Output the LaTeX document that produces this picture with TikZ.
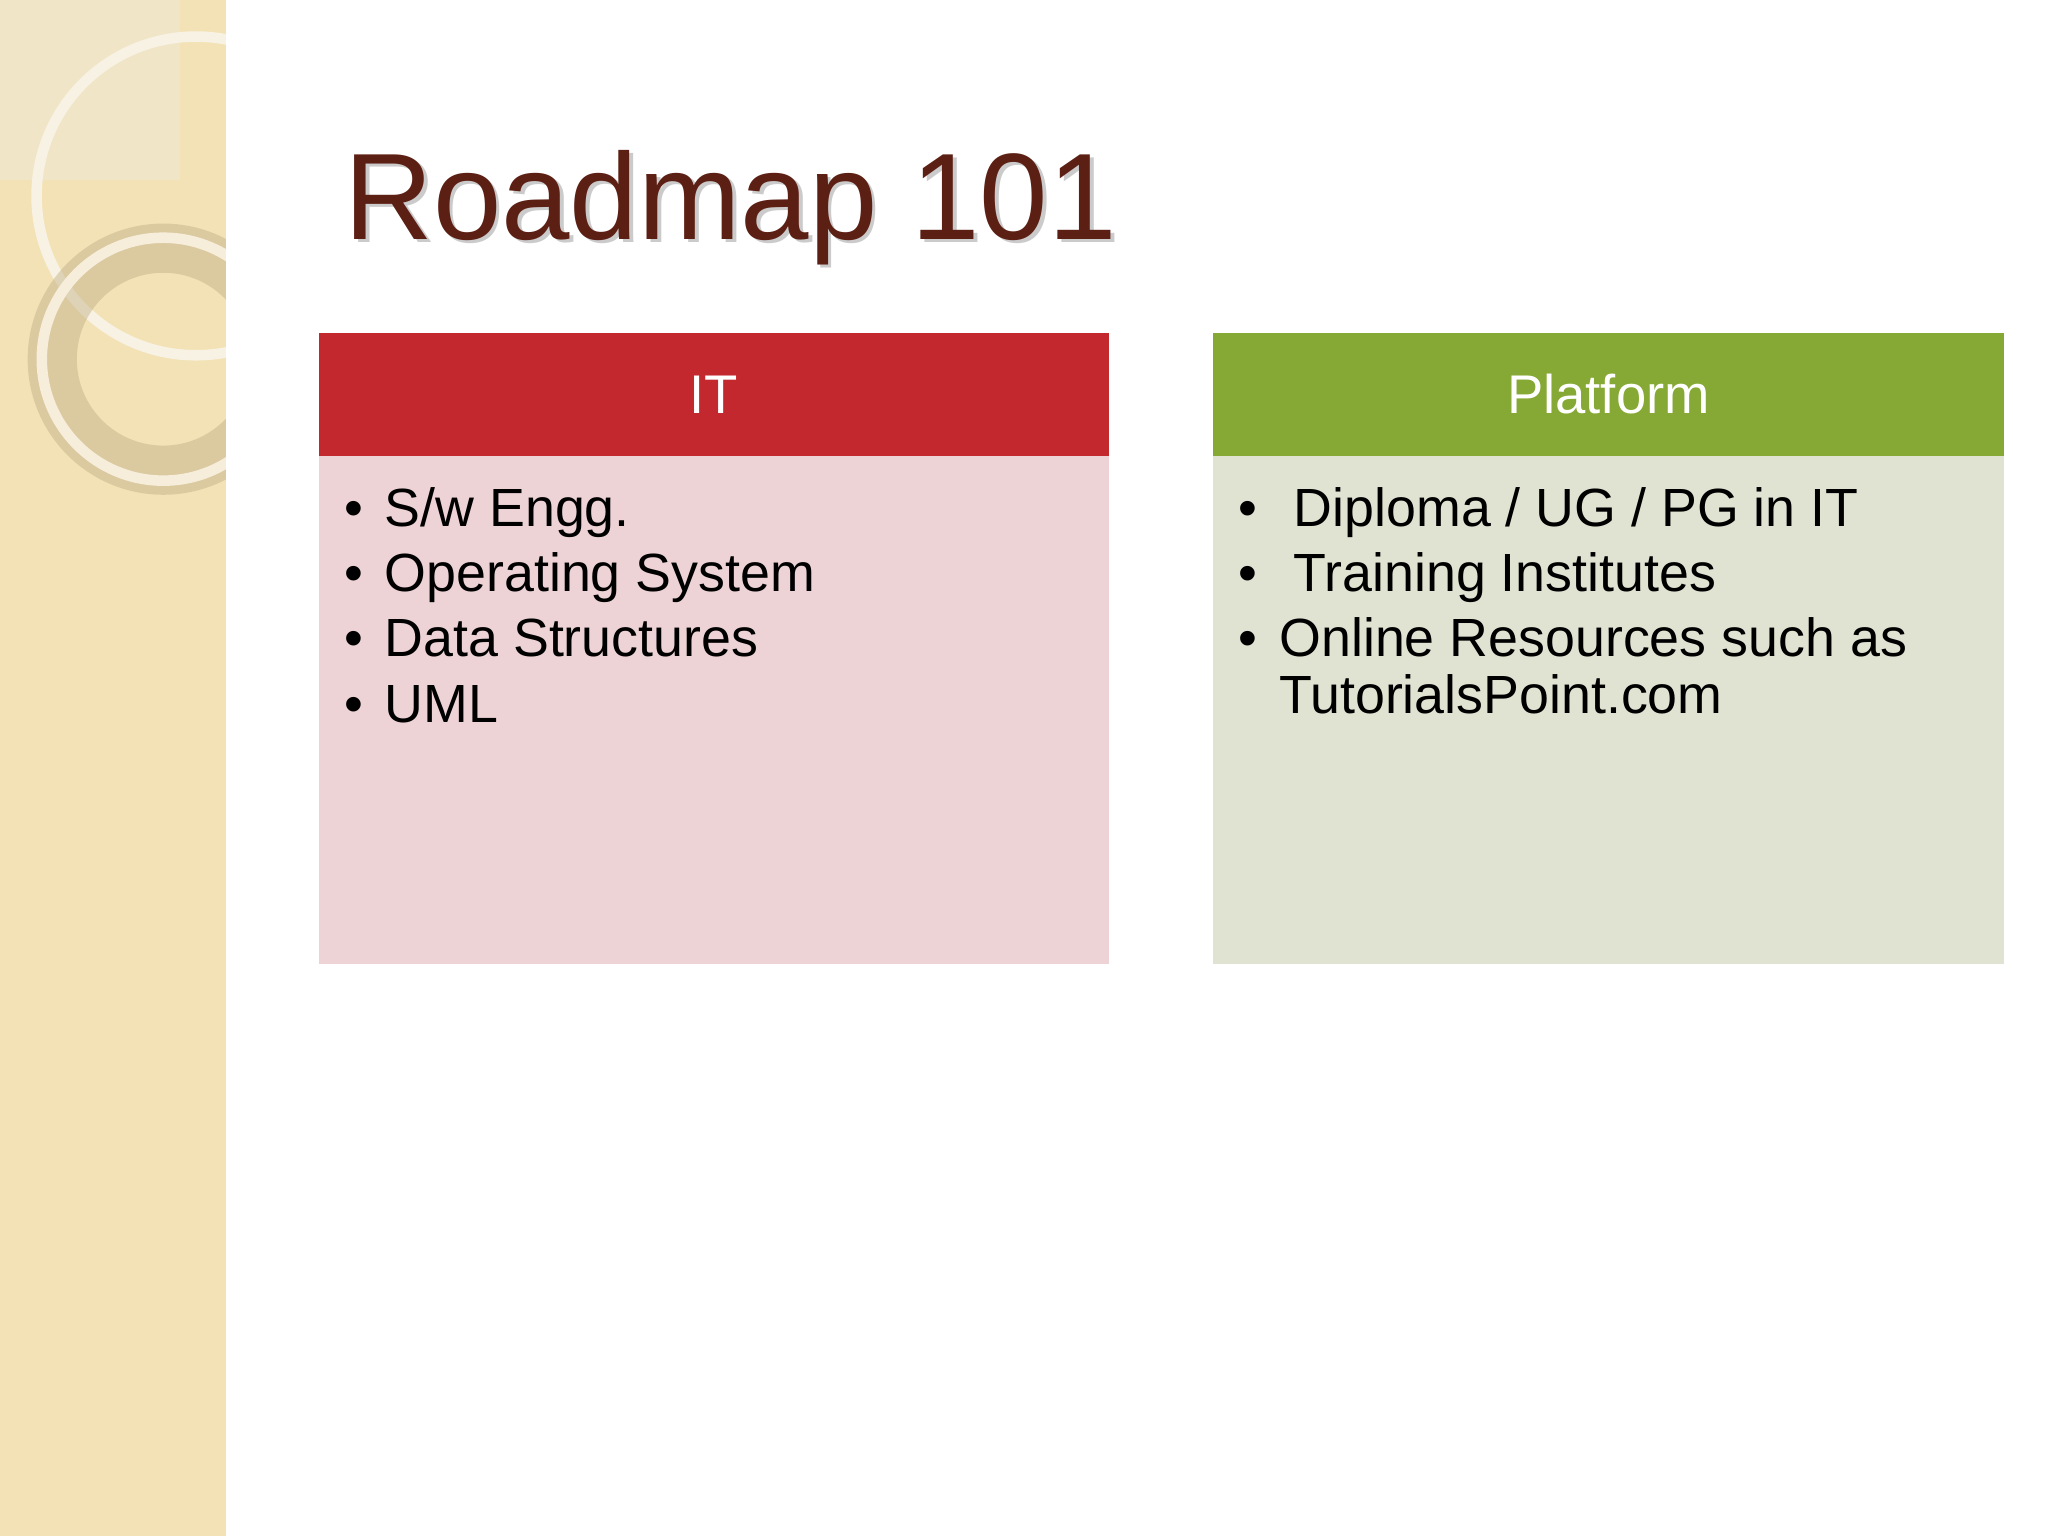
\documentclass[tikz,border=0pt]{standalone}
\usepackage{fontspec}
\setmainfont{Liberation Sans}
\begin{document}
\begin{tikzpicture}[x=0.013061cm,y=-0.013061cm]
\definecolor{band}{HTML}{F3E2B6}
\definecolor{ring}{HTML}{E8D4A4}
\definecolor{titlec}{HTML}{5C1F14}
\definecolor{redh}{HTML}{C4282F}
\definecolor{redb}{HTML}{EDD3D6}
\definecolor{greenh}{HTML}{86A834}
\definecolor{greenb}{HTML}{E0E3D2}
\tikzset{item/.style={anchor=base west,font=\fontsize{15.3}{18}\selectfont,inner sep=0pt},
 head/.style={text=white,font=\fontsize{15.5}{18}\selectfont}}
\useasboundingbox (0,0) rectangle (1568,1176);
\fill[white] (0,0) rectangle (1568,1176);
\fill[band] (0,0) rectangle (173,1176);
\fill[ring!60!white] (0,0) rectangle (138,138);
\begin{scope}
\clip (0,0) rectangle (173,1176);
\draw[white!70!ring,line width=3pt] (150,150) circle (122);
\draw[ring!85!black,opacity=0.5,line width=14pt] (125,275) circle (85);
\draw[white!60!ring,line width=3pt] (125,275) circle (93);
\end{scope}
\node[anchor=base west,text=black!40,opacity=0.5,font=\fontsize{35}{40}\selectfont,inner sep=0pt] at (266,186) {Roadmap 101};
\node[anchor=base west,text=titlec,font=\fontsize{35}{40}\selectfont,inner sep=0pt] (title) at (263,183) {Roadmap 101};
\fill[redb] (244,349) rectangle (849,738);
\fill[redh] (244,255) rectangle (849,349);
\node[head] (ith) at (546.5,302) {IT};
\fill[greenb] (929,349) rectangle (1534,738);
\fill[greenh] (929,255) rectangle (1534,349);
\node[head] (plh) at (1231.5,302) {Platform};
\foreach \t [count=\i] in {S/w Engg.,Operating System,Data Structures,UML}{
 \node[item] (a\i) at (263,{403+50*(\i-1)}) {•};
 \node[item] at (294,{403+50*(\i-1)}) {\t};
}
\node[item] (b1) at (948,403) {•};
\node[item] at (990,403) {Diploma / UG / PG in IT};
\node[item] (b2) at (948,453) {•};
\node[item] at (990,453) {Training Institutes};
\node[item] (b3) at (948,503) {•};
\node[item] at (979,503) {Online Resources such as};
\node[item] at (979,546) {TutorialsPoint.com};
\end{tikzpicture}
\end{document}
